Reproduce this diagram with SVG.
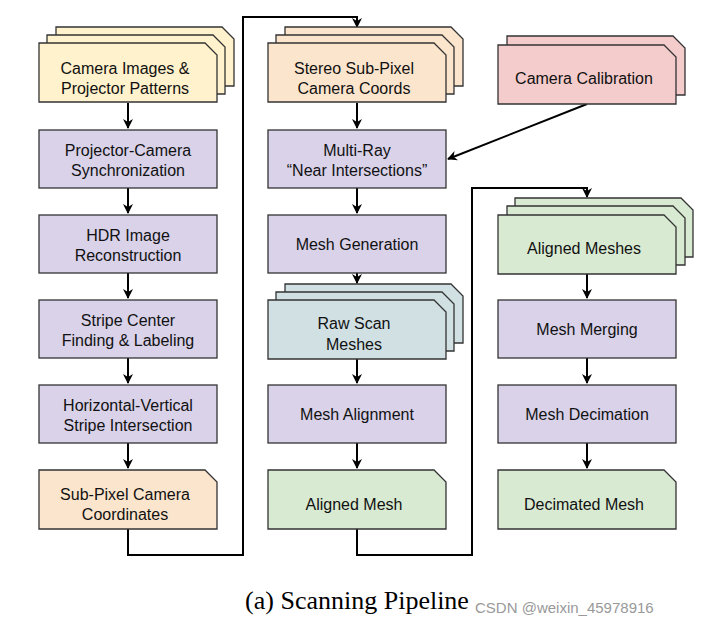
<svg xmlns="http://www.w3.org/2000/svg" width="721" height="626" viewBox="0 0 721 626">
<style>
.b{stroke:#333;stroke-width:1.3}
.t{font-family:"Liberation Sans",Arial,sans-serif;font-size:16px;fill:#111;text-anchor:middle}
.c{fill:none;stroke:#000;stroke-width:2}
.y{fill:#fff2cc}.p{fill:#d9d2e9}.o{fill:#fce5cd}.r{fill:#f4cccc}.g{fill:#d9ead3}.s{fill:#d0e0e3}
</style>
<defs>
<marker id="a" markerWidth="10" markerHeight="10" refX="9" refY="5" orient="auto" markerUnits="userSpaceOnUse"><path d="M0,0 L10,5 L0,10 L3,5 Z" fill="#000"/></marker>
<path id="doc" d="M0,0 H166 L178,12 V59 H0 Z"/>
</defs>
<rect width="721" height="626" fill="#fff"/>
<g id="connectors">
<line class="c" x1="128" y1="103" x2="128" y2="128" marker-end="url(#a)"/>
<line class="c" x1="128" y1="188" x2="128" y2="213" marker-end="url(#a)"/>
<line class="c" x1="128" y1="273" x2="128" y2="298" marker-end="url(#a)"/>
<line class="c" x1="128" y1="358" x2="128" y2="383" marker-end="url(#a)"/>
<line class="c" x1="128" y1="443" x2="128" y2="468" marker-end="url(#a)"/>
<path class="c" d="M128,529 V555 H243 V17 H357 V27" marker-end="url(#a)"/>
<line class="c" x1="357" y1="103" x2="357" y2="128" marker-end="url(#a)"/>
<line class="c" x1="357" y1="188" x2="357" y2="213" marker-end="url(#a)"/>
<line class="c" x1="357" y1="273" x2="357" y2="283" marker-end="url(#a)"/>
<line class="c" x1="357" y1="359" x2="357" y2="383" marker-end="url(#a)"/>
<line class="c" x1="357" y1="443" x2="357" y2="468" marker-end="url(#a)"/>
<line class="c" x1="587" y1="104" x2="448" y2="159" marker-end="url(#a)"/>
<path class="c" d="M357,529 V555 H472 V188 H587 V197" marker-end="url(#a)"/>
<line class="c" x1="587" y1="274" x2="587" y2="298" marker-end="url(#a)"/>
<line class="c" x1="587" y1="358" x2="587" y2="383" marker-end="url(#a)"/>
<line class="c" x1="587" y1="443" x2="587" y2="468" marker-end="url(#a)"/>
</g>
<g id="n1"><use href="#doc" class="b y" x="56" y="27"/><use href="#doc" class="b y" x="47" y="35"/><use href="#doc" class="b y" x="39" y="43"/>
<text class="t" x="125" y="74">Camera Images &amp;</text><text class="t" x="125" y="94">Projector Patterns</text></g>
<g id="n2"><rect class="b p" x="39" y="130" width="178" height="58"/><text class="t" x="128" y="156">Projector-Camera</text><text class="t" x="128" y="176">Synchronization</text></g>
<g id="n3"><rect class="b p" x="39" y="215" width="178" height="58"/><text class="t" x="128" y="241">HDR Image</text><text class="t" x="128" y="261">Reconstruction</text></g>
<g id="n4"><rect class="b p" x="39" y="300" width="178" height="58"/><text class="t" x="128" y="326">Stripe Center</text><text class="t" x="128" y="346">Finding &amp; Labeling</text></g>
<g id="n5"><rect class="b p" x="39" y="385" width="178" height="58"/><text class="t" x="128" y="411">Horizontal-Vertical</text><text class="t" x="128" y="431">Stripe Intersection</text></g>
<g id="n6"><use href="#doc" class="b o" x="39" y="470"/><text class="t" x="125" y="500">Sub-Pixel Camera</text><text class="t" x="125" y="520">Coordinates</text></g>
<g id="n7"><use href="#doc" class="b o" x="285" y="27"/><use href="#doc" class="b o" x="276" y="35"/><use href="#doc" class="b o" x="268" y="43"/>
<text class="t" x="354" y="74">Stereo Sub-Pixel</text><text class="t" x="354" y="94">Camera Coords</text></g>
<g id="n8"><rect class="b p" x="268" y="130" width="178" height="58"/><text class="t" x="357" y="156">Multi-Ray</text><text class="t" x="357" y="176">“Near Intersections”</text></g>
<g id="n9"><rect class="b p" x="268" y="215" width="178" height="58"/><text class="t" x="357" y="250">Mesh Generation</text></g>
<g id="n10"><use href="#doc" class="b s" x="285" y="284"/><use href="#doc" class="b s" x="276" y="292"/><use href="#doc" class="b s" x="268" y="300"/>
<text class="t" x="354" y="329">Raw Scan</text><text class="t" x="354" y="350">Meshes</text></g>
<g id="n11"><rect class="b p" x="268" y="385" width="178" height="58"/><text class="t" x="357" y="420">Mesh Alignment</text></g>
<g id="n12"><use href="#doc" class="b g" x="268" y="470"/><text class="t" x="354" y="510">Aligned Mesh</text></g>
<g id="n13"><use href="#doc" class="b r" x="507" y="36"/><use href="#doc" class="b r" x="498" y="45"/><text class="t" x="584" y="84">Camera Calibration</text></g>
<g id="n14"><use href="#doc" class="b g" x="515" y="198"/><use href="#doc" class="b g" x="507" y="206"/><use href="#doc" class="b g" x="498" y="215"/><text class="t" x="584" y="254">Aligned Meshes</text></g>
<g id="n15"><rect class="b p" x="498" y="300" width="178" height="58"/><text class="t" x="587" y="335">Mesh Merging</text></g>
<g id="n16"><rect class="b p" x="498" y="385" width="178" height="58"/><text class="t" x="587" y="420">Mesh Decimation</text></g>
<g id="n17"><use href="#doc" class="b g" x="498" y="470"/><text class="t" x="584" y="510">Decimated Mesh</text></g>
<text x="357" y="609" style="font-family:'Liberation Serif',serif;font-size:26px;text-anchor:middle;fill:#000">(a) Scanning Pipeline</text>
<text x="475" y="613" style="font-family:'Liberation Sans',sans-serif;font-size:15px;fill:#999">CSDN @weixin_45978916</text>
</svg>
